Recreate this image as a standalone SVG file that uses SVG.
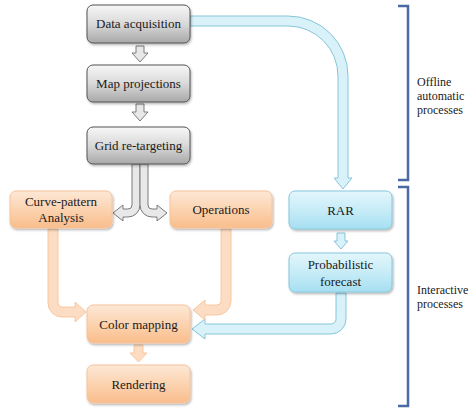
<svg xmlns="http://www.w3.org/2000/svg" width="474" height="410" viewBox="0 0 474 410">
<defs>
<linearGradient id="gGray" x1="0" y1="0" x2="0" y2="1"><stop offset="0" stop-color="#f7f7f7"/><stop offset="0.5" stop-color="#d9d9d9"/><stop offset="1" stop-color="#a8a8a8"/></linearGradient>
<linearGradient id="gOrange" x1="0" y1="0" x2="0" y2="1"><stop offset="0" stop-color="#fde8d6"/><stop offset="0.5" stop-color="#fcd3b0"/><stop offset="1" stop-color="#f9bd8c"/></linearGradient>
<linearGradient id="gBlue" x1="0" y1="0" x2="0" y2="1"><stop offset="0" stop-color="#e3f6fc"/><stop offset="0.5" stop-color="#c7ecf7"/><stop offset="1" stop-color="#a6dff1"/></linearGradient>
<filter id="sh" x="-10%" y="-10%" width="125%" height="135%"><feDropShadow dx="1" dy="1.5" stdDeviation="1" flood-color="#000" flood-opacity="0.3"/></filter>
<style>
.gray rect{fill:url(#gGray);stroke:#555;stroke-width:1;filter:url(#sh)}
.orange rect{fill:url(#gOrange);stroke:#f6c49c;stroke-width:1;filter:url(#sh)}
.blue rect{fill:url(#gBlue);stroke:#86c8dc;stroke-width:1;filter:url(#sh)}
text{font-family:"Liberation Serif","DejaVu Serif",serif;font-size:13px;fill:#1a1a1a;text-anchor:middle}
.lbl{font-size:12px;text-anchor:start}
.ag{fill:#e8e8e8;stroke:#7a7a7a;stroke-width:1}
.ao{fill:#fcdcc2;stroke:#f7c8a2;stroke-width:1}
.ab{fill:#d9f2fa;stroke:#86c5d9;stroke-width:1}
.br{fill:none;stroke:#4a6aa5;stroke-width:2.5}
</style>
</defs>
<rect width="474" height="410" fill="#ffffff"/>

<g id="connectors">
<path class="ab" d="M190,16 H288 A60,60 0 0 1 348,76 V178 H352 L343,189 L334,178 H338 V76 A50,50 0 0 0 288,26 H190 Z"/>
<path class="ab" d="M346,293 V319 A15,15 0 0 1 331,334 H205 V339 L192,329 L205,319 V324 H331 A5,5 0 0 0 336,319 V293 Z"/>
<path class="ao" d="M48,229 V303 A14,14 0 0 0 62,317 H75 V322 L86,312 L75,302 V307 H62 A4,4 0 0 1 58,303 V229 Z"/>
<path class="ao" d="M231,229 V301 A14,14 0 0 1 217,315 H205 V320 L193,310 L205,300 V305 H217 A4,4 0 0 0 221,301 V229 Z"/>
<path class="ag" d="M140,164 V205 A12,12 0 0 1 128,217 H123 V221 L113,213 L123,205 V209 H128 A4,4 0 0 0 132,205 V164 Z"/>
<path class="ag" d="M140,164 V205 A12,12 0 0 0 152,217 H157 V221 L167,213 L157,205 V209 H152 A4,4 0 0 1 148,205 V164 Z"/>
<path class="ag" d="M136,46 H144 V53 H148 L140,62 L132,53 H136 Z"/>
<path class="ag" d="M136,104 H144 V112 H148 L140,121 L132,112 H136 Z"/>
<path class="ao" d="M134,345 H143 V353 H147 L138.5,362 L130,353 H134 Z"/>
<path class="ab" d="M337,233 H345 V241 H348 L341,249 L334,241 H337 Z"/>
</g>

<g id="data-acquisition" class="gray"><rect x="87" y="5" width="103" height="38" rx="6"/><text x="138.5" y="28">Data acquisition</text></g>
<g id="map-projections" class="gray"><rect x="87" y="65" width="103" height="37" rx="6"/><text x="138.5" y="88">Map projections</text></g>
<g id="grid-retargeting" class="gray"><rect x="87" y="127" width="103" height="37" rx="6"/><text x="138.5" y="150">Grid re-targeting</text></g>

<g id="curve-pattern" class="orange"><rect x="10" y="191" width="102" height="37" rx="6"/><text x="61" y="206">Curve-pattern</text><text x="61" y="222">Analysis</text></g>
<g id="operations" class="orange"><rect x="170" y="191" width="102" height="37" rx="6"/><text x="221" y="214">Operations</text></g>
<g id="color-mapping" class="orange"><rect x="87" y="305" width="103" height="38" rx="6"/><text x="138.5" y="329">Color mapping</text></g>
<g id="rendering" class="orange"><rect x="87" y="365" width="103" height="38" rx="6"/><text x="138.5" y="389">Rendering</text></g>

<g id="rar" class="blue"><rect x="289" y="191" width="103" height="38" rx="6"/><text x="340.5" y="215">RAR</text></g>
<g id="probabilistic-forecast" class="blue"><rect x="289" y="253" width="103" height="39" rx="6"/><text x="340.5" y="269">Probabilistic</text><text x="340.5" y="286">forecast</text></g>

<g id="brackets">
<path class="br" d="M398,6 H408 V180 H398"/>
<path class="br" d="M398,187 H408 V406 H398"/>
</g>
<g id="labels">
<text class="lbl" x="417" y="86">Offline</text>
<text class="lbl" x="417" y="100">automatic</text>
<text class="lbl" x="417" y="114">processes</text>
<text class="lbl" x="417" y="294">Interactive</text>
<text class="lbl" x="417" y="308">processes</text>
</g>
</svg>
